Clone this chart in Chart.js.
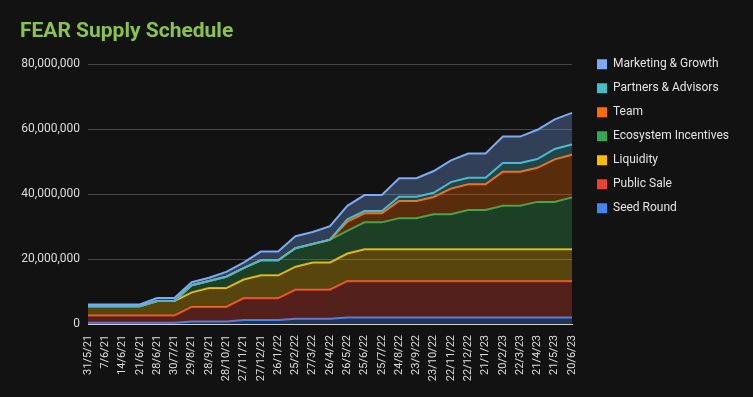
<!DOCTYPE html>
<html>
<head>
<meta charset="utf-8">
<title>FEAR Supply Schedule</title>
<script src="https://cdn.jsdelivr.net/npm/chart.js@4.4.1/dist/chart.umd.min.js"></script>
<style>
    html, body { margin: 0; padding: 0; background: #121212; }
    #wrap { width: 753px; height: 397px; }
</style>
</head>
<body>
<div id="wrap"><canvas id="supplyChart" width="753" height="397"></canvas></div>
<script>
// release dates (x axis)
var dates = ["31/5/21", "7/6/21", "14/6/21", "21/6/21", "28/6/21", "30/7/21", "29/8/21", "28/9/21",
    "28/10/21", "27/11/21", "27/12/21", "26/1/22", "25/2/22", "27/3/22", "26/4/22", "26/5/22",
    "25/6/22", "25/7/22", "24/8/22", "23/9/22", "23/10/22", "22/11/22", "22/12/22", "21/1/23",
    "20/2/23", "22/3/23", "21/4/23", "21/5/23", "20/6/23"];

// unlocked tokens per bucket, in millions
var seedRound = [0.4, 0.4, 0.4, 0.4, 0.4, 0.4, 0.8, 0.8, 0.8, 1.2, 1.2, 1.2, 1.6, 1.6, 1.6,
    2.0, 2.0, 2.0, 2.0, 2.0, 2.0, 2.0, 2.0, 2.0, 2.0, 2.0, 2.0, 2.0, 2.0];
var publicSale = [2.2, 2.2, 2.2, 2.2, 2.2, 2.2, 4.45, 4.45, 4.45, 6.7, 6.7, 6.7, 8.95, 8.95, 8.95,
    11.2, 11.2, 11.2, 11.2, 11.2, 11.2, 11.2, 11.2, 11.2, 11.2, 11.2, 11.2, 11.2, 11.2];
var liquidity = [2.9, 2.9, 2.9, 2.9, 4.5, 4.5, 4.5, 5.8, 5.8, 5.8, 7.1, 7.1, 7.1, 8.4, 8.4,
    8.5, 9.8, 9.8, 9.8, 9.8, 9.8, 9.8, 9.8, 9.8, 9.8, 9.8, 9.8, 9.8, 9.8];
var ecosystem = [0, 0, 0, 0, 0, 0, 2.2, 2.2, 3.5, 3.5, 4.6, 4.6, 5.7, 5.7, 7.0,
    7.0, 8.3, 8.3, 9.6, 9.6, 10.8, 10.8, 12.1, 12.1, 13.4, 13.4, 14.6, 14.6, 16.0];
var team = [0, 0, 0, 0, 0, 0, 0, 0, 0, 0, 0, 0, 0, 0, 0,
    2.8, 2.8, 2.8, 5.3, 5.3, 5.3, 7.9, 7.9, 7.9, 10.5, 10.5, 10.5, 13.1, 13.1];
var partners = [0, 0, 0, 0, 0, 0, 0, 0, 0, 0, 0, 0, 0, 0, 0,
    0.7, 0.7, 0.7, 1.3, 1.3, 1.3, 2.0, 2.0, 2.0, 2.7, 2.7, 2.7, 3.2, 3.2];
var marketing = [0.5, 0.5, 0.5, 0.5, 0.9, 0.9, 0.9, 1.0, 1.5, 1.7, 2.7, 2.7, 3.7, 3.7, 4.2,
    4.2, 4.9, 4.9, 5.7, 5.7, 6.7, 6.7, 7.5, 7.5, 8.1, 8.1, 9.0, 9.1, 9.7];

var seriesNames = ["Seed Round", "Public Sale", "Liquidity", "Ecosystem Incentives", "Team",
    "Partners & Advisors", "Marketing & Growth"];
var seriesColors = ["#4285f4", "#ea4335", "#fbbc04", "#34a853", "#ff6d01", "#46bdc6", "#7baaf7"];

var yTicks = [0, 20000000, 40000000, 60000000, 80000000];

function hexToRgba(hex, a) {
    var r = parseInt(hex.substr(1, 2), 16);
    var g = parseInt(hex.substr(3, 2), 16);
    var b = parseInt(hex.substr(5, 2), 16);
    return 'rgba(' + r + ',' + g + ',' + b + ',' + a + ')';
}

// running totals so each area sits on the previous one
function buildDatasets() {
    var series = [seedRound, publicSale, liquidity, ecosystem, team, partners, marketing];
    var running = dates.map(function () { return 0; });

    return series.map(function (vals, i) {
        running = running.map(function (r, j) { return r + vals[j] * 1000000; });
        return {
            label: seriesNames[i],
            data: running.slice(),
            borderColor: seriesColors[i],
            backgroundColor: hexToRgba(seriesColors[i], 0.3),
            borderWidth: 2,
            pointRadius: 0,
            tension: 0,
            fill: i === 0 ? 'origin' : '-1',
            order: series.length - 1 - i
        };
    });
}

var background = {
    id: 'background',
    beforeDraw: function (chart) {
        var ctx = chart.ctx;
        ctx.save();
        ctx.fillStyle = '#121212';
        ctx.fillRect(0, 0, chart.width, chart.height);
        ctx.restore();
    }
};

// legend sits a bit higher than the plot top and further right
var legendShift = {
    id: 'legendShift',
    afterLayout: function (chart) {
        chart.legend.top -= 18;
        chart.legend.bottom -= 18;
        chart.legend.left += 13;
        chart.legend.right += 13;
    }
};

function legendLabels(chart) {
    var items = Chart.defaults.plugins.legend.labels.generateLabels(chart);
    items.forEach(function (item) {
        item.fillStyle = item.strokeStyle;
        item.lineWidth = 0;
    });
    return items;
}

function initChart() {
    var ctx = document.getElementById('supplyChart').getContext('2d');

    var options = {
        responsive: false,
        animation: false,
        devicePixelRatio: 1,
        layout: { padding: { left: 20, right: 27, top: 0, bottom: 0 } },
        plugins: {
            title: {
                display: true,
                text: 'FEAR Supply Schedule',
                align: 'start',
                color: '#8bc34a',
                font: { family: 'Roboto', size: 21, weight: 'bold' },
                padding: { top: 19, bottom: 20 }
            },
            legend: {
                position: 'right',
                align: 'start',
                fullSize: false,
                labels: {
                    boxWidth: 10,
                    boxHeight: 10,
                    padding: 12,
                    color: '#e3e3e3',
                    font: { family: 'Roboto', size: 12 },
                    generateLabels: legendLabels
                }
            },
            tooltip: { enabled: false }
        },
        scales: {
            x: {
                grid: { display: false, drawTicks: false },
                border: { display: true, color: '#d0d0d0' },
                ticks: {
                    color: '#dddddd',
                    font: { family: 'Roboto', size: 11 },
                    minRotation: 90,
                    maxRotation: 90,
                    autoSkip: false,
                    padding: 11
                },
                afterFit: function (scale) { scale.height = 73; }
            },
            y: {
                min: 0,
                max: 80000000,
                afterBuildTicks: function (scale) {
                    scale.ticks = yTicks.map(function (v) { return { value: v }; });
                },
                ticks: {
                    color: '#dddddd',
                    font: { family: 'Roboto', size: 12 },
                    padding: 8,
                    callback: function (v) { return Number(v).toLocaleString('en-US'); }
                },
                grid: { color: '#474747', drawTicks: false },
                border: { display: false },
                afterFit: function (scale) { scale.width = 68; }
            }
        }
    };

    new Chart(ctx, {
        type: 'line',
        data: { labels: dates, datasets: buildDatasets() },
        options: options,
        plugins: [background, legendShift]
    });
}

initChart();
</script>
</body>
</html>
